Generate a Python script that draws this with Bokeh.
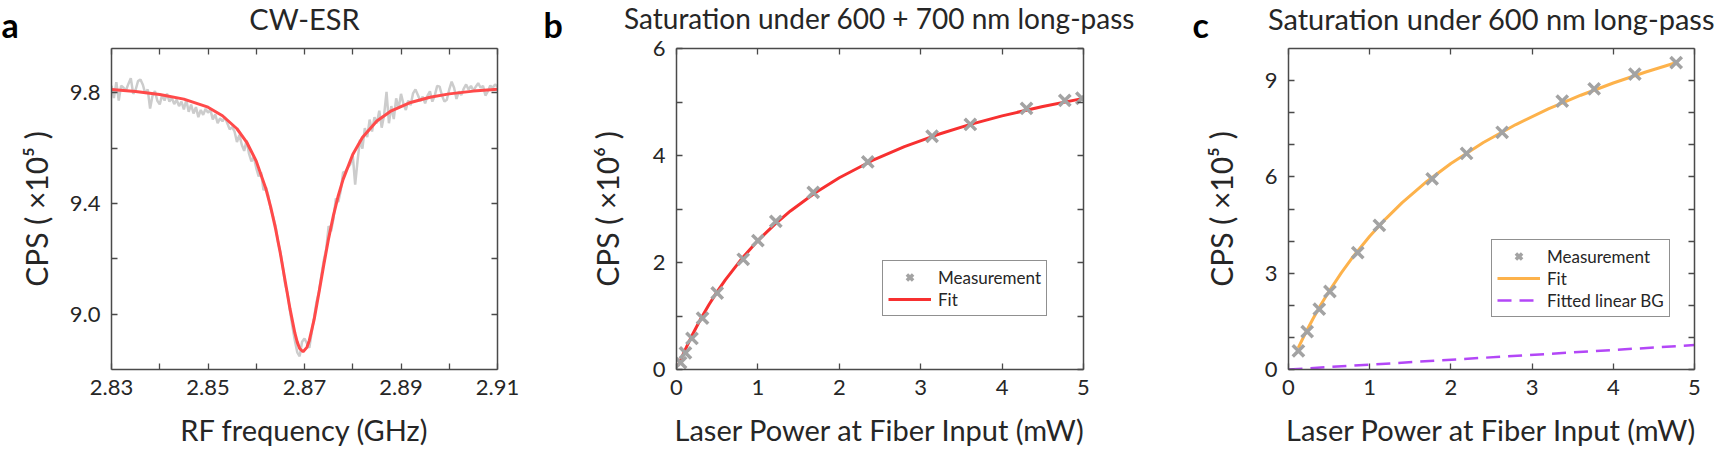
from bokeh.plotting import figure
from bokeh.models import Range1d, FixedTicker, LinearAxis, Legend, LegendItem
from bokeh.layouts import row, column
from bokeh.core.properties import value
from bokeh.embed import file_html
from bokeh.resources import INLINE

# ---------------- panel a : CW-ESR sweep ----------------
esr_freq = [round(2.83 + 0.0005 * i, 4) for i in range(161)]   # GHz sweep
esr_counts = [                                                   # CPS (x1e5)
    9.825, 9.781, 9.838, 9.772, 9.826, 9.818, 9.809, 9.832, 9.853, 9.796,
    9.811, 9.842, 9.848, 9.829, 9.797, 9.812, 9.743, 9.789, 9.806, 9.771,
    9.758, 9.792, 9.772, 9.797, 9.768, 9.781, 9.759, 9.775, 9.752, 9.768,
    9.740, 9.774, 9.731, 9.757, 9.725, 9.748, 9.712, 9.738, 9.720, 9.742,
    9.728, 9.738, 9.704, 9.722, 9.690, 9.708, 9.697, 9.712, 9.690, 9.668,
    9.676, 9.660, 9.622, 9.648, 9.612, 9.590, 9.628, 9.580, 9.552, 9.568,
    9.528, 9.498, 9.512, 9.448, 9.458, 9.428, 9.380, 9.352, 9.318, 9.262,
    9.225, 9.170, 9.108, 9.072, 9.010, 8.955, 8.905, 8.862, 8.848, 8.900,
    8.912, 8.895, 8.878, 8.935, 8.990, 9.045, 9.082, 9.140, 9.195, 9.235,
    9.318, 9.300, 9.345, 9.418, 9.405, 9.445, 9.512, 9.515, 9.530, 9.542,
    9.575, 9.468, 9.555, 9.630, 9.598, 9.672, 9.640, 9.703, 9.660, 9.712,
    9.690, 9.735, 9.674, 9.720, 9.803, 9.690, 9.752, 9.705, 9.780, 9.742,
    9.796, 9.760, 9.738, 9.772, 9.755, 9.798, 9.812, 9.792, 9.770, 9.786,
    9.762, 9.790, 9.805, 9.768, 9.790, 9.825, 9.822, 9.790, 9.768, 9.775,
    9.812, 9.840, 9.818, 9.778, 9.805, 9.792, 9.815, 9.830, 9.812, 9.825,
    9.808, 9.822, 9.835, 9.818, 9.825, 9.790, 9.805, 9.826, 9.818, 9.830,
    9.822,
]
esr_fit_freq = [2.830, 2.835, 2.840, 2.845, 2.850, 2.853, 2.856, 2.858, 2.860, 2.862,
                2.863, 2.864, 2.865, 2.866, 2.867, 2.868, 2.8685, 2.869, 2.8697, 2.8705,
                2.871, 2.872, 2.873, 2.874, 2.875, 2.876, 2.877, 2.878, 2.880, 2.882,
                2.885, 2.888, 2.892, 2.896, 2.900, 2.905, 2.910]
esr_fit_counts = [9.812, 9.805, 9.794, 9.777, 9.748, 9.717, 9.670, 9.622, 9.553, 9.453,
                  9.387, 9.309, 9.219, 9.119, 9.019, 8.932, 8.899, 8.876, 8.864, 8.880,
                  8.905, 8.981, 9.078, 9.179, 9.274, 9.357, 9.428, 9.487, 9.577, 9.638,
                  9.698, 9.735, 9.765, 9.784, 9.796, 9.806, 9.813]
a_xticks = [2.83, 2.85, 2.87, 2.89, 2.91]
a_xlabels = ["2.83", "2.85", "2.87", "2.89", "2.91"]
a_xminor = [2.84, 2.86, 2.88, 2.90]
a_yticks = [9.0, 9.4, 9.8]
a_ylabels = ["9.0", "9.4", "9.8"]
a_yminor = [9.2, 9.6]

# ---------------- panel b : 600 + 700 nm long-pass ----------------
b_power = [0.05, 0.11, 0.19, 0.32, 0.50, 0.82, 1.00, 1.22, 1.68, 2.35,
           3.14, 3.61, 4.30, 4.77, 4.98]                       # mW
b_counts = [0.13, 0.31, 0.58, 0.96, 1.43, 2.06, 2.41, 2.77, 3.31, 3.88,
            4.36, 4.58, 4.88, 5.03, 5.07]                      # CPS (x1e6)
b_fit_power = [0.02, 0.1, 0.2, 0.3, 0.4, 0.5, 0.6, 0.8, 1.0, 1.2, 1.4, 1.7,
               2.0, 2.4, 2.8, 3.2, 3.6, 4.0, 4.5, 5.0]
b_fit_counts = [0.073, 0.349, 0.665, 0.952, 1.214, 1.455, 1.676, 2.069, 2.409,
                2.704, 2.964, 3.300, 3.584, 3.902, 4.165, 4.387, 4.577, 4.741,
                4.917, 5.068]
b_xticks = [0, 1, 2, 3, 4, 5]
b_xlabels = ["0", "1", "2", "3", "4", "5"]
b_yticks = [0, 2, 4, 6]
b_ylabels = ["0", "2", "4", "6"]
b_yminor = [1, 3, 5]

# ---------------- panel c : 600 nm long-pass ----------------
c_power = [0.122, 0.230, 0.379, 0.510, 0.853, 1.119, 1.769, 2.193, 2.631,
           3.371, 3.764, 4.265, 4.774]                          # mW
c_counts = [0.58, 1.18, 1.88, 2.43, 3.64, 4.49, 5.94, 6.73, 7.39,
            8.36, 8.74, 9.20, 9.56]                             # CPS (x1e5)
c_fit_power = [0.12, 0.2, 0.3, 0.4, 0.5, 0.65, 0.8, 1.0, 1.2, 1.4, 1.7, 2.0,
               2.4, 2.8, 3.2, 3.6, 4.0, 4.4, 4.78]
c_fit_counts = [0.676, 1.09, 1.574, 2.022, 2.438, 3.011, 3.530, 4.150, 4.701,
                5.197, 5.850, 6.419, 7.072, 7.631, 8.116, 8.544, 8.925, 9.268, 9.564]
c_bg_power = [0.0, 5.0]
c_bg_counts = [0.0, 0.76]
c_xticks = [0, 1, 2, 3, 4, 5]
c_xlabels = ["0", "1", "2", "3", "4", "5"]
c_yticks = [0, 3, 6, 9]
c_ylabels = ["0", "3", "6", "9"]
c_yminor = [1, 2, 4, 5, 7, 8]

# ---------------- headings ----------------
panel_titles = ["CW-ESR", "Saturation under 600 + 700 nm long-pass",
                "Saturation under 600 nm long-pass"]

FONT = "Lato"
TXT = "#262626"
AXC = "#4a4a4a"
GRAY_MARK = "#a3a3a3"
PAGE_H = 452
FRAME_TOP = 48


def style_axis(ax, ticks, labels, minor, standoff):
    ax.ticker = FixedTicker(ticks=ticks, minor_ticks=minor)
    ax.major_label_overrides = dict(zip(ticks, labels))
    ax.axis_line_color = AXC
    ax.axis_line_width = 1.5
    ax.major_tick_line_color = AXC
    ax.minor_tick_line_color = AXC
    ax.major_tick_line_width = 1.3
    ax.minor_tick_line_width = 1.3
    ax.major_tick_in = 6
    ax.major_tick_out = 0
    ax.minor_tick_in = 6
    ax.minor_tick_out = 0
    ax.major_label_text_font = FONT
    ax.major_label_text_font_size = "22px"
    ax.major_label_text_color = TXT
    ax.major_label_standoff = standoff
    ax.axis_label_text_font = FONT
    ax.axis_label_text_font_size = "29px"
    ax.axis_label_text_font_style = "normal"
    ax.axis_label_text_color = TXT


def box_axis(ticks, minor):
    # unlabeled axis that closes the box and repeats the ticks inward
    ax = LinearAxis(ticker=FixedTicker(ticks=[], minor_ticks=sorted(list(ticks) + list(minor))))
    ax.axis_line_color = AXC
    ax.axis_line_width = 1.5
    ax.minor_tick_line_color = AXC
    ax.minor_tick_line_width = 1.3
    ax.minor_tick_in = 6
    ax.minor_tick_out = 0
    ax.major_tick_in = 0
    ax.major_tick_out = 0
    ax.major_label_standoff = 0
    return ax


def panel(width, head_h, b_left, xr, yr, xt, xl, xm, yt, yl, ym,
          xlabel, ylabel, ylab_standoff, frame_w):
    p = figure(width=width, height=PAGE_H - head_h, x_range=Range1d(*xr), y_range=Range1d(*yr),
               output_backend="svg", toolbar_location=None,
               min_border_left=b_left, min_border_right=width - b_left - frame_w,
               min_border_top=FRAME_TOP - head_h, min_border_bottom=83)
    p.grid.visible = False
    p.outline_line_color = None
    p.background_fill_color = "white"
    p.border_fill_color = "white"
    style_axis(p.xaxis[0], xt, xl, xm, 10)
    style_axis(p.yaxis[0], yt, yl, ym, 11)
    p.xaxis[0].axis_label = xlabel
    p.xaxis[0].axis_label_standoff = 14
    p.yaxis[0].axis_label = ylabel
    p.yaxis[0].axis_label_text_font_size = "30px"
    p.yaxis[0].axis_label_standoff = ylab_standoff
    p.add_layout(box_axis(xt, xm), "above")
    p.add_layout(box_axis(yt, ym), "right")
    return p


def heading(x0, width, head_h, title, title_cx, title_size="29px", letters=(), letter_x=()):
    # strip above a panel; coordinates are page pixels, y pointing down
    h = figure(width=width, height=head_h, x_range=Range1d(x0, x0 + width),
               y_range=Range1d(head_h, 0), output_backend="svg", toolbar_location=None,
               x_axis_type=None, y_axis_type=None, min_border=0)
    if "frame_align" in h.properties():
        h.frame_align = False      # keep the strip's frame at its full width
    h.grid.visible = False
    h.outline_line_color = None
    h.border_fill_color = "white"
    h.background_fill_color = "white"
    if letters:
        h.text(x=list(letter_x), y=[3] * len(letters), text=list(letters),
               text_font=value(FONT), text_font_size=value("34px"),
               text_font_style="bold", text_color="black",
               text_align="left", text_baseline="top")
    h.text(x=[title_cx], y=[0], text=[title], text_font=value(FONT),
           text_font_size=value(title_size), text_color=TXT,
           text_align="center", text_baseline="top")
    return h


def legend(items, loc):
    return Legend(items=items, location=loc, padding=5, spacing=0, margin=0,
                  label_height=20, glyph_height=22, glyph_width=43, label_standoff=7,
                  label_text_font=FONT, label_text_font_size="17px", label_text_color=TXT,
                  border_line_color="#222222", border_line_width=1.3,
                  background_fill_color="white", background_fill_alpha=1.0)


# column widths across the page: 575 + 585 + 565 = 1725
# panel a
ha = heading(0, 575, 47, panel_titles[0], 304, letters=("a", "b"), letter_x=(1, 543))
pa = panel(575, 47, 111, (2.83, 2.91), (8.8, 9.96),
           a_xticks, a_xlabels, a_xminor, a_yticks, a_ylabels, a_yminor,
           "RF frequency (GHz)", "CPS ( \u00d710\u2075 )", 13, 386)
pa.line(esr_freq, esr_counts, line_color="#cccccc", line_width=2.5)
pa.line(esr_fit_freq, esr_fit_counts, line_color="#ff4a4a", line_width=3)

# panel b (shorter strip so the top tick label "6" has room)
hb = heading(575, 585, 34, panel_titles[1], 879, title_size="28px")
pb = panel(585, 34, 101, (0, 5), (0, 6),
           b_xticks, b_xlabels, [], b_yticks, b_ylabels, b_yminor,
           "Laser Power at Fiber Input (mW)", "CPS ( \u00d710\u2076 )", 25, 407)
rb_fit = pb.line(b_fit_power, b_fit_counts, line_color="#f73030", line_width=3)
rb_pts = pb.scatter(b_power, b_counts, marker="x", size=16, line_width=3.5,
                    line_color=GRAY_MARK)
pb.add_layout(legend([LegendItem(label="Measurement", renderers=[rb_pts]),
                      LegendItem(label="Fit", renderers=[rb_fit])], (206, 53)))

# panel c
hc = heading(1160, 565, 47, panel_titles[2], 1491, letters=("c",), letter_x=(1192,))
pc = panel(565, 47, 128, (0, 5), (0, 10),
           c_xticks, c_xlabels, [], c_yticks, c_ylabels, c_yminor,
           "Laser Power at Fiber Input (mW)", "CPS ( \u00d710\u2075 )", 23, 406)
rc_bg = pc.line(c_bg_power, c_bg_counts, line_color="#b347f7", line_width=2.5,
                line_dash="14 8")
rc_fit = pc.line(c_fit_power, c_fit_counts, line_color="#fdb24b", line_width=3)
rc_pts = pc.scatter(c_power, c_counts, marker="x", size=16, line_width=3.5,
                    line_color=GRAY_MARK)
pc.add_layout(legend([LegendItem(label="Measurement", renderers=[rc_pts]),
                      LegendItem(label="Fit", renderers=[rc_fit]),
                      LegendItem(label="Fitted linear BG", renderers=[rc_bg])], (203, 52)))

layout = row(column(ha, pa, spacing=0), column(hb, pb, spacing=0),
             column(hc, pc, spacing=0), spacing=0)
open("out.html", "w").write(file_html(layout, INLINE))
